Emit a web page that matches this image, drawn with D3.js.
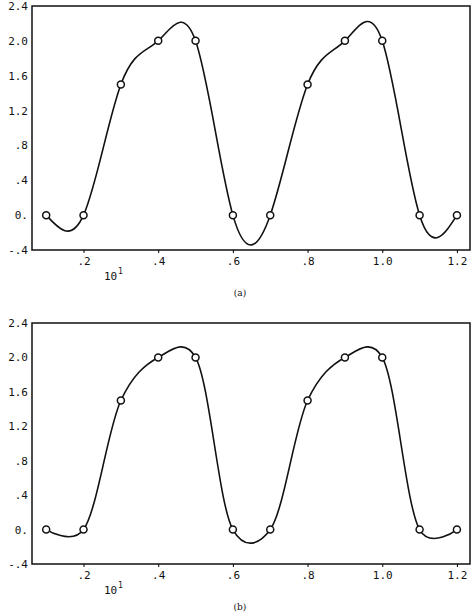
<!DOCTYPE html>
<html><head><meta charset="utf-8">
<script src="https://cdn.jsdelivr.net/npm/d3@7"></script>
<style>body{margin:0;background:#fff}text{font-family:"DejaVu Sans Mono",monospace;font-size:11px;fill:#111}</style>
</head><body><svg></svg>
<script>
let xs = [0.1, 0.2, 0.3, 0.4, 0.5, 0.6, 0.7, 0.8, 0.9, 1.0, 1.1, 1.2]
let ys = [0, 0, 1.5, 2, 2, 0, 0, 1.5, 2, 2, 0, 0]
let xTicks = [0.2, 0.4, 0.6, 0.8, 1.0, 1.2]
let xTickLabels = [".2", ".4", ".6", ".8", "1.0", "1.2"]
let yTicks = [-0.4, 0, 0.4, 0.8, 1.2, 1.6, 2.0, 2.4]
let yTickLabels = ["-.4", "0.", ".4", ".8", "1.2", "1.6", "2.0", "2.4"]
let panels = ["(a)", "(b)"]

let w = 474, h = 612
let svg = d3.select("svg").attr("width", w).attr("height", h)
let data = xs.map((x, i) => [x, ys[i]])

let drawPanel = (top, bottom, label, curve) => {
  let xScale = d3.scaleLinear().domain([0.062, 1.235]).range([32, 470])
  let yScale = d3.scaleLinear().domain([-0.4, 2.4]).range([bottom, top])
  let g = svg.append("g")
  g.append("rect").attr("x", 32).attr("y", top).attr("width", 438).attr("height", bottom - top)
   .attr("fill", "none").attr("stroke", "#111").attr("stroke-width", 1.5)
  let xAxis = d3.axisBottom(xScale).tickValues(xTicks).tickSize(3).tickPadding(4)
    .tickFormat((d, i) => xTickLabels[i])
  g.append("g").attr("transform", `translate(0,${bottom})`).call(xAxis)
   .call(s => s.select(".domain").remove())
  let yAxis = d3.axisLeft(yScale).tickValues(yTicks).tickSize(0).tickPadding(4)
    .tickFormat((d, i) => yTickLabels[i])
  g.append("g").attr("transform", "translate(32,0)").call(yAxis)
   .call(s => s.select(".domain").remove())
  g.selectAll(".tick text").style("font-family", "DejaVu Sans Mono").style("font-size", "11px").attr("fill", "#111")
  g.append("text").attr("x", 104).attr("y", bottom + 30).text("10")
  g.append("text").attr("x", 118).attr("y", bottom + 24).style("font-size", "8px").text("1")
  g.append("text").attr("x", 240).attr("y", bottom + 46).attr("text-anchor", "middle")
   .style("font-family", "DejaVu Serif").style("font-size", "9px").text(label)
  let line = d3.line().x(d => xScale(d[0])).y(d => yScale(d[1])).curve(curve)
  g.append("path").datum(data).attr("d", line).attr("fill", "none").attr("stroke", "#111").attr("stroke-width", 1.6)
  g.selectAll("circle").data(data).enter().append("circle")
   .attr("cx", d => xScale(d[0])).attr("cy", d => yScale(d[1])).attr("r", 3.5)
   .attr("fill", "#fff").attr("stroke", "#111").attr("stroke-width", 1.5)
}

drawPanel(6, 250, panels[0], d3.curveNatural)
drawPanel(323, 564, panels[1], d3.curveCatmullRom.alpha(0.15))
</script></body></html>
